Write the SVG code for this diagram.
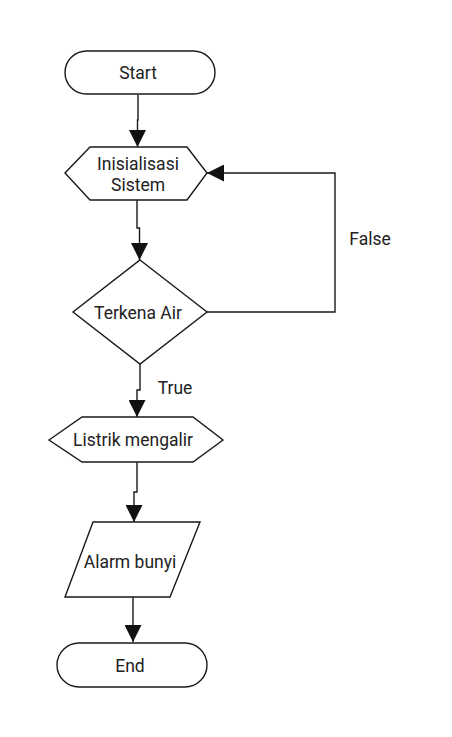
<svg xmlns="http://www.w3.org/2000/svg" width="452" height="737" viewBox="0 0 452 737">
<style>
.s{fill:#fff;stroke:#1a1a1a;stroke-width:1.4}
.t{font-family:Roboto,"Liberation Sans",sans-serif;font-size:17.5px;fill:#222;text-anchor:middle;dominant-baseline:central}
.c{fill:none;stroke:#1a1a1a;stroke-width:1.4;marker-end:url(#a)}
</style>
<defs>
<marker id="a" markerWidth="17" markerHeight="17" refX="10" refY="5" orient="auto" markerUnits="userSpaceOnUse" viewBox="0 0 10 10">
<path d="M0,0 L10,5 L0,10 Z" fill="#111"/>
</marker>
</defs>
<rect width="452" height="737" fill="#fff"/>
<g id="connectors">
<path class="c" d="M138,95 V120 H137.5 V147"/>
<path class="c" d="M137,200 V228 H139.5 V260"/>
<path class="c" d="M207,312 H335 V173 H207"/>
<path class="c" d="M140,364 V390 H137 V417"/>
<path class="c" d="M137,462 V492 H134 V522"/>
<path class="c" d="M133,597 V642"/>
<text class="t" x="370" y="239">False</text>
<text class="t" x="175" y="388">True</text>
</g>
<g id="start">
<rect class="s" x="65" y="51" width="150" height="43" rx="21.5"/>
<text class="t" x="138" y="73">Start</text>
</g>
<g id="init">
<polygon class="s" points="65,173 90,147 187,147 207,173 187,200 90,200"/>
<text class="t" x="138" y="164">Inisialisasi</text>
<text class="t" x="138" y="185">Sistem</text>
</g>
<g id="decision">
<polygon class="s" points="140,260 207,312 140,364 73,312"/>
<text class="t" x="138" y="313">Terkena Air</text>
</g>
<g id="listrik">
<polygon class="s" points="49,440 82,417 193,417 223,440 193,462 82,462"/>
<text class="t" x="133" y="440">Listrik mengalir</text>
</g>
<g id="alarm">
<polygon class="s" points="93,522 200,522 170,597 65,597"/>
<text class="t" x="130" y="562">Alarm bunyi</text>
</g>
<g id="end">
<rect class="s" x="57" y="643" width="150" height="44" rx="22"/>
<text class="t" x="130" y="666">End</text>
</g>
</svg>
